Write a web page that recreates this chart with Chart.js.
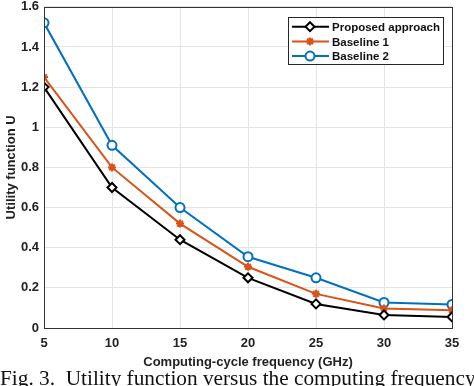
<!DOCTYPE html>
<html>
<head>
<meta charset="utf-8">
<script src="https://cdn.jsdelivr.net/npm/chart.js@4/dist/chart.umd.min.js"></script>
<style>
  html, body { margin: 0; padding: 0; background: #fff; overflow: hidden; }
  #wrap { position: relative; width: 474px; height: 386px; overflow: hidden; }
  #chart { position: absolute; left: 0; top: -6px; }
  #caption {
    position: absolute; left: 0; top: 367px; white-space: nowrap; line-height: 22px;
    font-family: "Liberation Serif", "Times New Roman", serif; font-size: 21.3px; color: #111;
  }
</style>
</head>
<body>
<div id="wrap">
  <canvas id="chart" width="474" height="376"></canvas>
  <div id="caption">Fig. 3.&nbsp; Utility function versus the computing frequency</div>
</div>
<script>
// Data
const frequencies = [5, 10, 15, 20, 25, 30, 35];
const proposed = [1.20, 0.70, 0.44, 0.25, 0.12, 0.065, 0.055];
const baseline1 = [1.25, 0.80, 0.52, 0.305, 0.17, 0.097, 0.089];
const baseline2 = [1.52, 0.91, 0.60, 0.355, 0.25, 0.127, 0.117];
const seriesNames = ['Proposed approach', 'Baseline 1', 'Baseline 2'];

const FONT = '"Liberation Sans", Arial, sans-serif';

function toPoints(values) {
    return frequencies.map((f, i) => ({ x: f, y: values[i] }));
}

// Box around the plot area, MATLAB style
const boxPlugin = {
    id: 'box',
    afterDraw(chart) {
        const { ctx, chartArea: a } = chart;
        ctx.save();
        ctx.strokeStyle = '#333';
        ctx.lineWidth = 1;
        ctx.strokeRect(Math.round(a.left) + 0.5, Math.round(a.top) + 0.5,
            Math.round(a.right - a.left), Math.round(a.bottom - a.top));
        ctx.restore();
    }
};

// Legend drawn inside the top-right corner
const insideLegend = {
    id: 'insideLegend',
    afterDraw(chart) {
        const { ctx, chartArea: a } = chart;
        const boxW = 155, rowH = 14.7;
        const x0 = Math.round(a.right - 164), y0 = Math.round(a.top + 10);
        const boxH = 47;
        ctx.save();
        ctx.fillStyle = '#fff';
        ctx.fillRect(x0, y0, boxW, boxH);
        ctx.strokeStyle = '#262626';
        ctx.lineWidth = 1;
        ctx.strokeRect(x0 + 0.5, y0 + 0.5, boxW, boxH);
        chart.data.datasets.forEach((ds, i) => {
            const cy = y0 + 9.7 + i * rowH;
            ctx.strokeStyle = ds.borderColor;
            ctx.lineWidth = 2;
            ctx.beginPath();
            ctx.moveTo(x0 + 4, cy);
            ctx.lineTo(x0 + 41, cy);
            ctx.stroke();
            ctx.fillStyle = ds.pointBackgroundColor;
            ctx.strokeStyle = ds.pointBorderColor;
            Chart.helpers.drawPoint(ctx, {
                pointStyle: ds.pointStyle,
                radius: ds.pointRadius,
                borderWidth: ds.pointBorderWidth,
                rotation: 0
            }, x0 + 22, cy);
            ctx.fillStyle = '#111';
            ctx.font = 'bold 11.5px ' + FONT;
            ctx.textBaseline = 'middle';
            ctx.fillText(ds.label, x0 + 44, cy + 1);
        });
        ctx.restore();
    }
};

function makeDataset(label, values, color, style, radius, fill) {
    return {
        label: label,
        data: toPoints(values),
        borderColor: color,
        backgroundColor: fill,
        pointBackgroundColor: fill,
        pointBorderColor: color,
        pointStyle: style,
        pointRadius: radius,
        pointBorderWidth: 2,
        borderWidth: 2,
        tension: 0
    };
}

const ctx = document.getElementById('chart').getContext('2d');
const chart = new Chart(ctx, {
    type: 'line',
    data: {
        datasets: [
            makeDataset(seriesNames[0], proposed, '#000000', 'rectRot', 4.5, '#ffffff'),
            makeDataset(seriesNames[1], baseline1, '#D95319', 'star', 4, '#D95319'),
            makeDataset(seriesNames[2], baseline2, '#0072BD', 'circle', 4.5, '#ffffff')
        ]
    },
    options: {
        responsive: false,
        animation: false,
        layout: { padding: { left: 0, right: 22, top: 0, bottom: 0 } },
        plugins: { legend: { display: false }, tooltip: { enabled: false } },
        scales: {
            x: {
                type: 'linear',
                min: 5, max: 35,
                border: { display: false },
                grid: { color: '#e4e4e4', drawTicks: false },
                afterFit: s => { s.height = 42; },
                ticks: {
                    stepSize: 5, padding: 8, color: '#222',
                    font: { family: FONT, size: 13, weight: 'bold' }
                },
                title: {
                    display: true, text: 'Computing-cycle frequency (GHz)', color: '#222',
                    padding: { top: 2, bottom: 0 },
                    font: { family: FONT, size: 13, weight: 'bold' }
                }
            },
            y: {
                min: 0, max: 1.6,
                border: { display: false },
                grid: { color: '#e4e4e4', drawTicks: false },
                afterFit: s => { s.width = 44; },
                ticks: {
                    stepSize: 0.2, padding: 5, color: '#222',
                    font: { family: FONT, size: 13, weight: 'bold' },
                    callback: v => String(+v.toFixed(1))
                },
                title: {
                    display: true, text: 'Utility function U', color: '#222',
                    padding: { top: 4, bottom: 0 },
                    font: { family: FONT, size: 13, weight: 'bold' }
                }
            }
        }
    },
    plugins: [boxPlugin, insideLegend]
});
</script>
</body>
</html>
